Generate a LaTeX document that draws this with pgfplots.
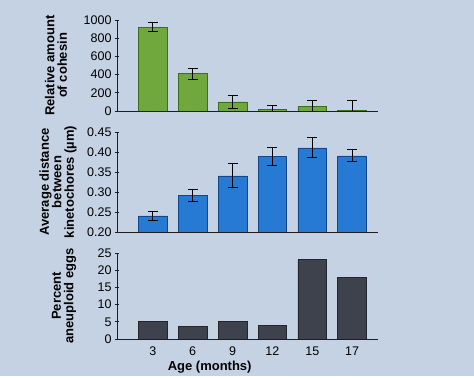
\documentclass[border=0pt]{standalone}
\usepackage{pgfplots}
\pgfplotsset{compat=1.18}
\usepackage{fontspec}
\setmainfont{Liberation Sans}
\definecolor{bgc}{RGB}{196,210,228}
\definecolor{gbar}{RGB}{112,168,62}
\definecolor{gedge}{RGB}{60,110,30}
\definecolor{bbar}{RGB}{38,122,212}
\definecolor{bedge}{RGB}{20,70,140}
\definecolor{kbar}{RGB}{62,66,76}
\definecolor{kedge}{RGB}{35,38,45}
\definecolor{axc}{RGB}{30,30,35}
\pgfplotsset{
  panel/.style={
    scale only axis, width=261pt,
    xmin=-0.9, xmax=5.65,
    axis x line=bottom, axis y line=left,
    axis line style={axc, line width=0.9pt, -},
    xtick={0,1,2,3,4,5},
    x tick label style={font=\fontsize{12.5}{13}\selectfont},
    y tick label style={font=\fontsize{12.5}{13}\selectfont},
    /pgf/number format/assume math mode=true,
    /pgf/number format/1000 sep={},
    major tick length=4pt,
    tick style={axc, line width=0.9pt},
    ylabel style={font=\fontsize{13}{12.5}\selectfont\bfseries, align=center, anchor=center},
    ybar, bar width=0.72,
    error bars/y dir=both, error bars/y explicit,
    error bars/error mark options={rotate=90, mark size=5pt, line width=1pt, black},
    error bars/error bar style={line width=1pt, black},
  }
}
\begin{document}
\begin{tikzpicture}[x=1pt,y=1pt]
\fill[bgc] (0,0) rectangle (474,376);
% top panel
\begin{axis}[panel, at={(117pt,265pt)}, anchor=south west, height=91pt,
  ymin=0, ymax=1000, ytick={0,200,400,600,800,1000},
  xticklabels={}, major x tick style={draw=none},
  ylabel={Relative amount\\of cohesin},
  ylabel style={at={(axis description cs:-0.234,0.5)}},
  clip=true]
\addplot[fill=gbar, draw=gedge, line width=0.6pt] coordinates {
 (0,920) +- (0,50)
 (1,410) +- (0,60)
 (2,100) +- (0,70)
 (3,20) +- (0,45)
 (4,50) +- (0,65)
 (5,10) +- (0,100)
};
\end{axis}
% middle panel
\begin{axis}[panel, at={(117pt,144pt)}, anchor=south west, height=100pt,
  ymin=0.20, ymax=0.45, ytick={0.20,0.25,0.30,0.35,0.40,0.45},
  yticklabel style={/pgf/number format/.cd, fixed, fixed zerofill, precision=2},
  xticklabels={}, major x tick style={draw=none},
  ylabel={Average distance\\between\\kinetochores (µm)},
  ylabel style={at={(axis description cs:-0.226,0.5)}}]
\addplot[fill=bbar, draw=bedge, line width=0.6pt] coordinates {
 (0,0.240) +- (0,0.011)
 (1,0.292) +- (0,0.015)
 (2,0.340) +- (0,0.030)
 (3,0.388) +- (0,0.023)
 (4,0.410) +- (0,0.025)
 (5,0.390) +- (0,0.015)
};
\end{axis}
% bottom panel
\begin{axis}[panel, at={(117pt,37pt)}, anchor=south west, height=86pt,
  ymin=0, ymax=25, ytick={0,5,10,15,20,25},
  xticklabels={3,6,9,12,15,17}, major x tick style={draw=none},
  xlabel={Age (months)},
  xlabel style={font=\fontsize{13}{13}\selectfont\bfseries, at={(axis description cs:0.355,0)}, anchor=north, yshift=-19pt},
  x tick label style={yshift=0pt},
  ylabel={Percent\\aneuploid eggs},
  ylabel style={at={(axis description cs:-0.203,0.5)}}]
\addplot[fill=kbar, draw=kedge, line width=0.6pt] coordinates {
 (0,5.0) (1,3.6) (2,5.0) (3,4.0) (4,23.2) (5,18.0)
};
\end{axis}
\end{tikzpicture}
\end{document}
